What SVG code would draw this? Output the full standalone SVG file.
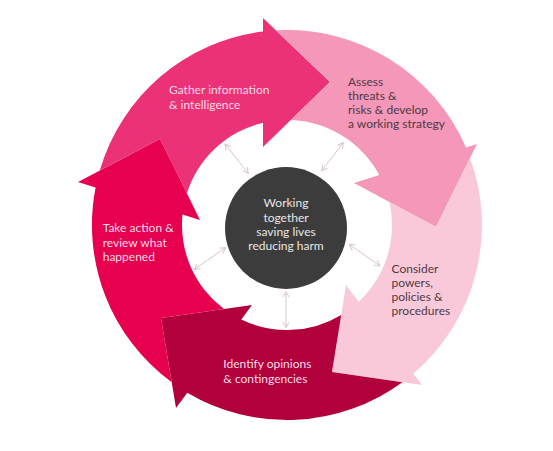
<svg xmlns="http://www.w3.org/2000/svg" width="553" height="451" viewBox="0 0 553 451">
<style>
.lbl{font-family:Lato,"Open Sans","Liberation Sans",sans-serif;font-size:12px}
.lt{fill:#fbdbe7}
.dk{fill:#4e3943}
.ct{fill:#e8e6e7;text-anchor:middle}
.conn{stroke:#d8c5cb;stroke-width:1;fill:none;marker-start:url(#ah);marker-end:url(#ah)}
</style>
<defs>
<marker id="ah" viewBox="0 0 8 8" refX="7" refY="4" markerWidth="8" markerHeight="8" markerUnits="userSpaceOnUse" orient="auto-start-reverse">
<path d="M1.5,1 L7,4 L1.5,7" fill="none" stroke="#d8c5cb" stroke-width="1"/>
</marker>
</defs>
<rect width="553" height="451" fill="#ffffff"/>
<g id="gather">
<path d="M99.7,170.6 A195,195 0 0 1 263,31.5 L263,18 L330,82 L263,147 L263,122.8 A105,105 0 0 0 186.9,193.4 L160,139 Z" fill="#ec3276"/>
<text class="lbl lt" x="169" y="94">Gather information</text>
<text class="lbl lt" x="169" y="108.5">&amp; intelligence</text>
</g>
<g id="assess">
<path d="M275.9,30.3 A195,195 0 0 1 466,147.5 L477,144 L436,227 L354,183 L379.3,175 A105,105 0 0 0 290.8,120.1 L330,82 Z" fill="#f597b9"/>
<text class="lbl dk" x="348" y="86">Assess</text>
<text class="lbl dk" x="348" y="100">threats &amp;</text>
<text class="lbl dk" x="348" y="114.3">risks &amp; develop</text>
<text class="lbl dk" x="348" y="128.3">a working strategy</text>
</g>
<g id="consider">
<path d="M470.1,158 A195,195 0 0 1 413.3,373.6 L422,385 L332,372 L346,285 L358.7,301.7 A105,105 0 0 0 389.5,202 L436,227 Z" fill="#f9c9da"/>
<text class="lbl dk" x="391.5" y="272.7">Consider</text>
<text class="lbl dk" x="391.5" y="286.5">powers,</text>
<text class="lbl dk" x="391.5" y="300.5">policies &amp;</text>
<text class="lbl dk" x="391.5" y="314.8">procedures</text>
</g>
<g id="identify">
<path d="M402.4,382.2 A195,195 0 0 1 187.3,392.7 L176,408 L161,318 L252,305 L241.3,319.5 A105,105 0 0 0 341.2,314.9 L332,372 Z" fill="#b1003b"/>
<text class="lbl lt" x="223.3" y="368.3">Identify opinions</text>
<text class="lbl lt" x="223.3" y="382.7">&amp; contingencies</text>
</g>
<g id="take-action">
<path d="M171.7,382.3 A195,195 0 0 1 95.6,187.5 L78,182 L160,139 L200,220 L182.5,214.6 A105,105 0 0 0 224,309 L161,318 Z" fill="#e6004f"/>
<text class="lbl lt" x="102.7" y="232.3">Take action &amp;</text>
<text class="lbl lt" x="102.7" y="246.7">review what</text>
<text class="lbl lt" x="102.7" y="261">happened</text>
</g>
<g id="centre">
<circle cx="286" cy="228" r="61" fill="#3d3c3c"/>
<text class="lbl ct" x="286" y="207.3">Working</text>
<text class="lbl ct" x="286" y="221.7">together</text>
<text class="lbl ct" x="286" y="236">saving lives</text>
<text class="lbl ct" x="286" y="250.3">reducing harm</text>
</g>
<g id="connectors">
<line class="conn" x1="225" y1="144" x2="248.3" y2="173.3"/>
<line class="conn" x1="343.3" y1="142.7" x2="321.7" y2="170.7"/>
<line class="conn" x1="349.3" y1="244.3" x2="380" y2="266"/>
<line class="conn" x1="286" y1="291.7" x2="286" y2="327.7"/>
<line class="conn" x1="225.7" y1="247.7" x2="194.3" y2="269.3"/>
</g>
</svg>
